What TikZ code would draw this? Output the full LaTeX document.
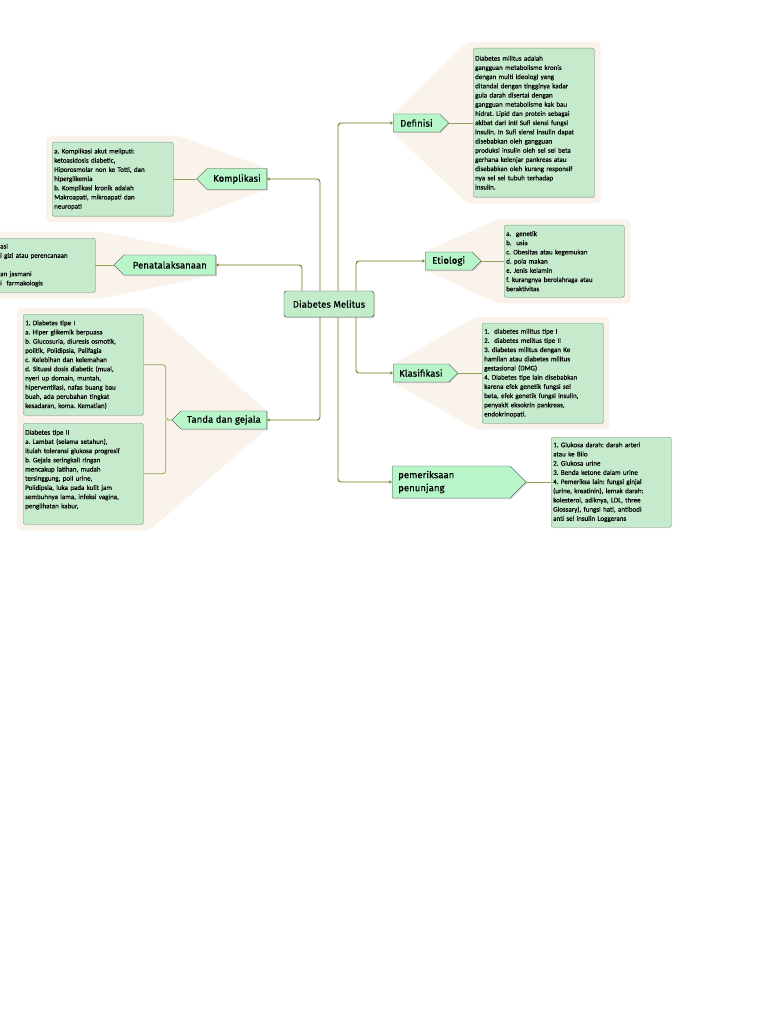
\documentclass[tikz,border=0pt]{standalone}
\usepackage{fontspec}
\setmainfont{Fira Sans}
\newfontfamily\notefont[FakeBold=0.2]{Carlito}
\newfontfamily\topicfont[FakeBold=0.35]{Fira Sans}
\frenchspacing
\usetikzlibrary{shapes.symbols,arrows.meta,backgrounds,shadows}
\definecolor{halo}{HTML}{F9F3EC}
\definecolor{notefill}{HTML}{C6EBCC}
\definecolor{noteline}{HTML}{7C9C82}
\definecolor{topicfill}{HTML}{B8F6CA}
\definecolor{mainfill}{HTML}{C3EDCA}
\definecolor{linkcol}{HTML}{6E7E18}
\tikzset{
  topic/.style={signal, signal pointer angle=90, draw=black!70, fill=topicfill,
    font=\topicfont\fontsize{9.6}{11}\selectfont, minimum height=18pt, inner xsep=6pt,
    drop shadow={shadow xshift=1pt, shadow yshift=-1pt, opacity=0.35}},
  mainnode/.style={rectangle, rounded corners=2.5pt, draw=black!80, fill=mainfill,
    font=\topicfont\fontsize{9.6}{11}\selectfont, minimum width=90pt, minimum height=26pt,
    drop shadow={shadow xshift=1pt, shadow yshift=-1pt, opacity=0.35}},
  note/.style={rectangle, rounded corners=2pt, draw=noteline, fill=notefill,
    anchor=north west, align=left, inner xsep=2pt, inner ysep=3pt,
    font=\notefont\fontsize{7}{9.2}\selectfont,
    drop shadow={shadow xshift=0.8pt, shadow yshift=-0.8pt, opacity=0.2}},
  link/.style={draw=linkcol, line width=0.9pt, rounded corners=3pt,
    -{Stealth[length=3pt,width=3pt]}},
  branch/.style={draw=linkcol!75, line width=0.8pt, rounded corners=3pt},
  glow/.style={fill=halo, rounded corners=4pt},
}

\begin{document}
\begin{tikzpicture}[x=1pt,y=-1pt]
  \useasboundingbox (0,0) rectangle (768,1024);

  % centre
  \node[mainnode] (dm) at (329,304) {Diabetes Melitus};

  % topics
  \node[topic, signal to=east, anchor=west, inner xsep=7pt] (defi) at (393,123) {Definisi};
  \node[topic, signal to=west, anchor=east, minimum height=21pt] (komp) at (267,179) {Komplikasi};
  \node[topic, signal to=west, anchor=east, minimum height=20pt, inner xsep=9pt] (pen) at (216,265) {Penatalaksanaan};
  \node[topic, signal to=west, anchor=east] (tanda) at (267,420) {Tanda dan gejala};
  \node[topic, signal to=east, anchor=west, inner xsep=7pt] (eti) at (425,261) {Etiologi};
  \node[topic, signal to=east, anchor=west] (klas) at (393,373) {Klasifikasi};
  \node[topic, signal to=east, anchor=west, text width=106pt, align=left,
    minimum height=32pt, font=\topicfont\fontsize{9.6}{13}\selectfont] (perik) at (392,482) {pemeriksaan\\penunjang};

  % notes
  \node[note, text width=117pt, minimum height=149pt] (defnote) at (473,48) {Diabetes militus adalah\\
gangguan metabolisme kronis\\
dengan multi ideologi yang\\
ditandai dengan tingginya kadar\\
gula darah disertai dengan\\
gangguan metabolisme kak bau\\
hidrat. Lipid dan protein sebagai\\
akibat dari inti Sufi siensi fungsi\\
insulin. In Sufi siensi insulin dapat\\
disebabkan oleh gangguan\\
produksi insulin oleh sel sel beta\\
gerhana kelenjar pankreas atau\\
disebabkan oleh kurang responsif\\
nya sel sel tubuh terhadap\\
insulin.};
  \node[note, text width=117pt, minimum height=74pt] (kompnote) at (52,142) {a. Komplikasi akut meliputi:\\
ketoasidosis diabetic,\\
Hiporosmolar non ke Totti, dan\\
hiperglikemia\\
b. Komplikasi kronik adalah\\
Makroapati, mikroapati dan\\
neuropati};
  \node[note, text width=91pt, inner xsep=4pt, minimum height=54pt] (pennote) at (-4,238) {asi\\
i gizi atau perencanaan\\
\mbox{}\\
an jasmani\\
i\ \ farmakologis};
  \node[note, text width=116pt, minimum height=72pt] (etinote) at (504,225) {a.\ \ genetik\\
b.\ \ usia\\
c. Obesitas atau kegemukan\\
d. pola makan\\
e. Jenis kelamin\\
f. kurangnya berolahraga atau\\
beraktivitas};
  \node[note, text width=117pt, minimum height=100pt] (klasnote) at (482,323) {1.\ \ diabetes militus tipe I\\
2.\ \ diabetes melitus tipe II\\
3. diabetes militus dengan Ke\\
hamilan atau diabetes militus\\
gestasional (DMG)\\
4. Diabetes tipe lain disebabkan\\
karena efek genetik fungsi sel\\
beta, efek genetik fungsi insulin,\\
penyakit eksokrin pankreas,\\
endokrinopati.};
  \node[note, text width=116pt, minimum height=101pt] (tanda1) at (23,314) {1. Diabetes tipe I\\
a. Hiper glikemik berpuasa\\
b. Glucosuria, diuresis osmotik,\\
politik, Polidipsia, Palifagia\\
c. Kelebihan dan kelemahan\\
d. Situasi dosis diabetic (mual,\\
nyeri up domain, muntah,\\
hiperventilasi, nafas buang bau\\
buah, ada perubahan tingkat\\
kesadaran, koma. Kematian)};
  \node[note, text width=116pt, minimum height=101pt] (tanda2) at (23,423) {Diabetes tipe II\\
a. Lambat (selama setahun),\\
itulah toleransi glukosa progresif\\
b. Gejala seringkali ringan\\
mencakup latihan, mudah\\
tersinggung, poli urine,\\
Polidipsia, luka pada kulit jam\\
sembuhnya lama, infeksi vagina,\\
penglihatan kabur,\\
\mbox{}};
  \node[note, text width=116pt, minimum height=90pt] (periknote) at (551,437) {1. Glukosa darah: darah arteri\\
atau ke Bilo\\
2. Glukosa urine\\
3. Benda ketone dalam urine\\
4. Pemeriksa lain: fungsi ginjal\\
(urine, kreatinin), lemak darah:\\
kolesterol, adiknya, LDL, three\\
Glossary), fungsi hati, antibodi\\
anti sel insulin Loggerans};

  % halos behind the topic groups
  \begin{scope}[on background layer]
    \fill[white] (0,0) rectangle (768,1024);
    \fill[glow] (defi.north west) -- ([shift={(-6,-6)}]defnote.north west) -- ([shift={(6,-6)}]defnote.north east)
      -- ([shift={(6,6)}]defnote.south east) -- ([shift={(-6,6)}]defnote.south west) -- (defi.south west) -- cycle;
    \fill[glow] (komp.north east) -- ([shift={(6,-6)}]kompnote.north east) -- ([shift={(-6,-6)}]kompnote.north west)
      -- ([shift={(-6,6)}]kompnote.south west) -- ([shift={(6,6)}]kompnote.south east) -- (komp.south east) -- cycle;
    \fill[glow] (pen.north east) -- ([shift={(6,-6)}]pennote.north east) -- ([shift={(-6,-6)}]pennote.north west)
      -- ([shift={(-6,6)}]pennote.south west) -- ([shift={(6,6)}]pennote.south east) -- (pen.south east) -- cycle;
    \fill[glow] (tanda.north east) -- ([shift={(6,-6)}]tanda1.north east) -- ([shift={(-6,-6)}]tanda1.north west)
      -- ([shift={(-6,6)}]tanda2.south west) -- ([shift={(6,6)}]tanda2.south east) -- (tanda.south east) -- cycle;
    \fill[glow] (eti.north west) -- ([shift={(-6,-6)}]etinote.north west) -- ([shift={(6,-6)}]etinote.north east)
      -- ([shift={(6,6)}]etinote.south east) -- ([shift={(-6,6)}]etinote.south west) -- (eti.south west) -- cycle;
    \fill[glow] (klas.north west) -- ([shift={(-6,-6)}]klasnote.north west) -- ([shift={(6,-6)}]klasnote.north east)
      -- ([shift={(6,6)}]klasnote.south east) -- ([shift={(-6,6)}]klasnote.south west) -- (klas.south west) -- cycle;
  \end{scope}

  % connectors
  \draw[link] ([xshift=-27pt]dm.north) |- (pen.east);
  \draw[link] ([xshift=-9pt]dm.north) |- (komp.east);
  \draw[link] ([xshift=9pt]dm.north) |- (defi.west);
  \draw[link] ([xshift=27pt]dm.north) |- (eti.west);
  \draw[link] ([xshift=-9pt]dm.south) |- (tanda.east);
  \draw[link] ([xshift=9pt]dm.south) |- (perik.west);
  \draw[link] ([xshift=27pt]dm.south) |- (klas.west);

  \draw[branch] (defi.east) -- (defi.east -| defnote.west);
  \draw[branch] (komp.west) -- (komp.west -| kompnote.east);
  \draw[branch] (pen.west) -- (pen.west -| pennote.east);
  \draw[branch] (eti.east) -- (eti.east -| etinote.west);
  \draw[branch] (klas.east) -- (klas.east -| klasnote.west);
  \draw[branch] (perik.east) -- (perik.east -| periknote.west);
  \coordinate (fork) at ([xshift=-6pt]tanda.west);
  \draw[branch] (tanda.west) -- (fork) |- (tanda1.east);
  \draw[branch] (fork) |- (tanda2.east);
\end{tikzpicture}
\end{document}
